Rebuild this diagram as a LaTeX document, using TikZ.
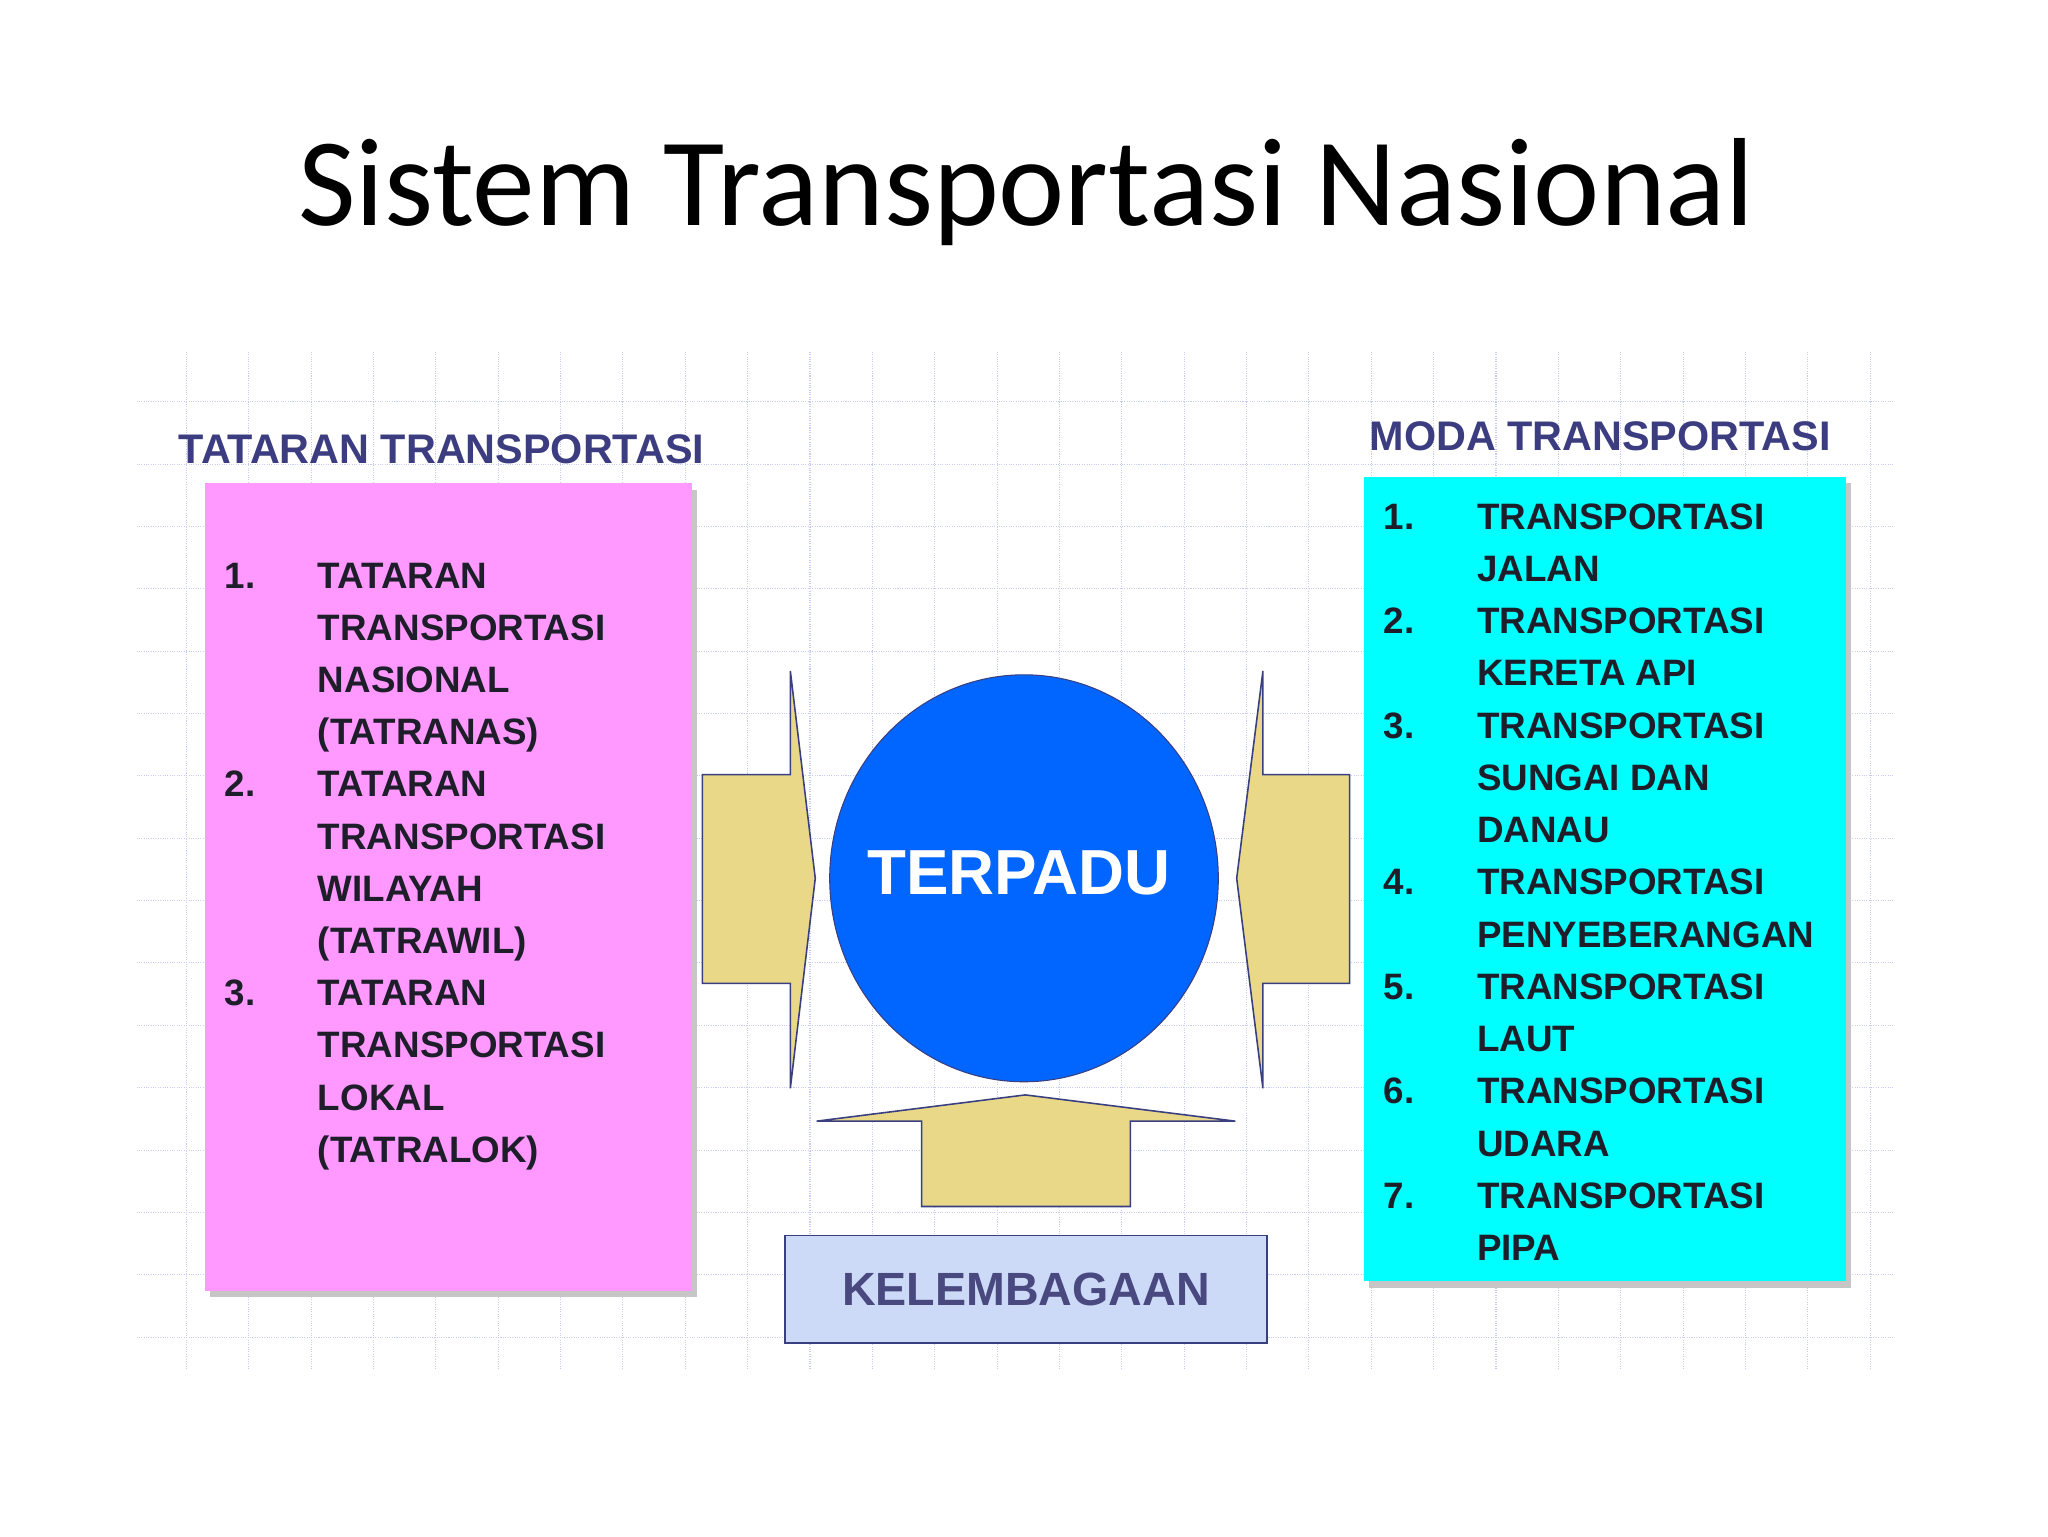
\documentclass[tikz,border=0pt]{standalone}
\usepackage{fontspec}
\setmainfont{Liberation Sans}
\newfontfamily\titlefont{Carlito}
\begin{document}
\begin{tikzpicture}[x=1pt,y=-1pt,
  arr/.style={fill=arrowkhaki,draw=lineblue,line width=1.2pt,line join=miter},
  item/.style={anchor=base west,inner sep=0,font=\fontsize{28}{30}\selectfont\bfseries,text=textdark},
  hdr/.style={anchor=base west,inner sep=0,font=\fontsize{31.5}{33}\selectfont\bfseries,text=hdrblue}]
\definecolor{arrowkhaki}{HTML}{E8D888}
\definecolor{lineblue}{HTML}{3A3F80}
\definecolor{textdark}{HTML}{1E1E2A}
\definecolor{hdrblue}{HTML}{3C3C80}
\definecolor{gridc}{HTML}{C8CCF0}
\definecolor{pinkbox}{HTML}{FF99FF}
\definecolor{cyanbox}{HTML}{00FFFF}
\definecolor{bluec}{HTML}{0066FF}
\definecolor{kbox}{HTML}{CCDAF8}
\useasboundingbox (0,0) rectangle (1560,1170);
\fill[white] (0,0) rectangle (1560,1170);
% grid
\foreach \i in {0,...,27} \draw[gridc,densely dotted,line width=0.8pt] (142+47.5*\i,268) -- (142+47.5*\i,1043);
\foreach \j in {0,...,15} \draw[gridc,densely dotted,line width=0.8pt] (104,306+47.5*\j) -- (1443,306+47.5*\j);
% title
\node[font=\titlefont\fontsize{95.5}{100}\selectfont] (title) at (782,146) {Sistem Transportasi Nasional};
% headers
\node[hdr] (h1) at (136,353) {TATARAN TRANSPORTASI};
\node[hdr] (h2) at (1043,343) {MODA TRANSPORTASI};
% boxes with shadows
\fill[gray!45] (160,373) rectangle (531,988);
\fill[pinkbox] (156,368) rectangle (527,983);
\fill[gray!45] (1043,368) rectangle (1410,981);
\fill[cyanbox] (1039,363) rectangle (1406,976);
% left items
\foreach \t [count=\k] in {TATARAN,TRANSPORTASI,NASIONAL,(TATRANAS),TATARAN,TRANSPORTASI,WILAYAH,(TATRAWIL),TATARAN,TRANSPORTASI,LOKAL,(TATRALOK)}
  \node[item] (l\k) at (242,448+39.75*\k-39.75) {\t};
\node[item] (ln1) at (171,448) {1.};
\node[item] (ln2) at (171,607) {2.};
\node[item] (ln3) at (171,766) {3.};
% right items
\foreach \t [count=\k] in {TRANSPORTASI,JALAN,TRANSPORTASI,KERETA API,TRANSPORTASI,SUNGAI DAN,DANAU,TRANSPORTASI,PENYEBERANGAN,TRANSPORTASI,LAUT,TRANSPORTASI,UDARA,TRANSPORTASI,PIPA}
  \node[item] (r\k) at (1125,403+39.8*\k-39.8) {\t};
\foreach \n/\r in {1/1,2/3,3/5,4/8,5/10,6/12,7/14}
  \node[item] (rn\n) at (1054,403+39.8*\r-39.8) {\n.};
% arrows
\draw[arr] (535,590) -- (602,590) -- (602,511) -- (621,669) -- (602,829) -- (602,749) -- (535,749) -- cycle;
\draw[arr] (1028,590) -- (962,590) -- (962,511) -- (942,669) -- (962,829) -- (962,749) -- (1028,749) -- cycle;
\draw[arr] (702,919) -- (702,854) -- (622,854) -- (781,834) -- (941,854) -- (861,854) -- (861,919) -- cycle;
% circle
\draw[fill=bluec,draw=lineblue,line width=0.8pt] (780,669) ellipse [x radius=148,y radius=155];
\node[font=\fontsize{48.5}{50}\selectfont\bfseries,text=white] (terpadu) at (776,665) {TERPADU};
% kelembagaan
\node[draw=lineblue,fill=kbox,line width=1.2pt,minimum width=367,minimum height=82,inner sep=0,
  font=\fontsize{35.5}{37}\selectfont\bfseries,text=hdrblue!80!gray] (kel) at (781.5,982) {KELEMBAGAAN};
\end{tikzpicture}
\end{document}
